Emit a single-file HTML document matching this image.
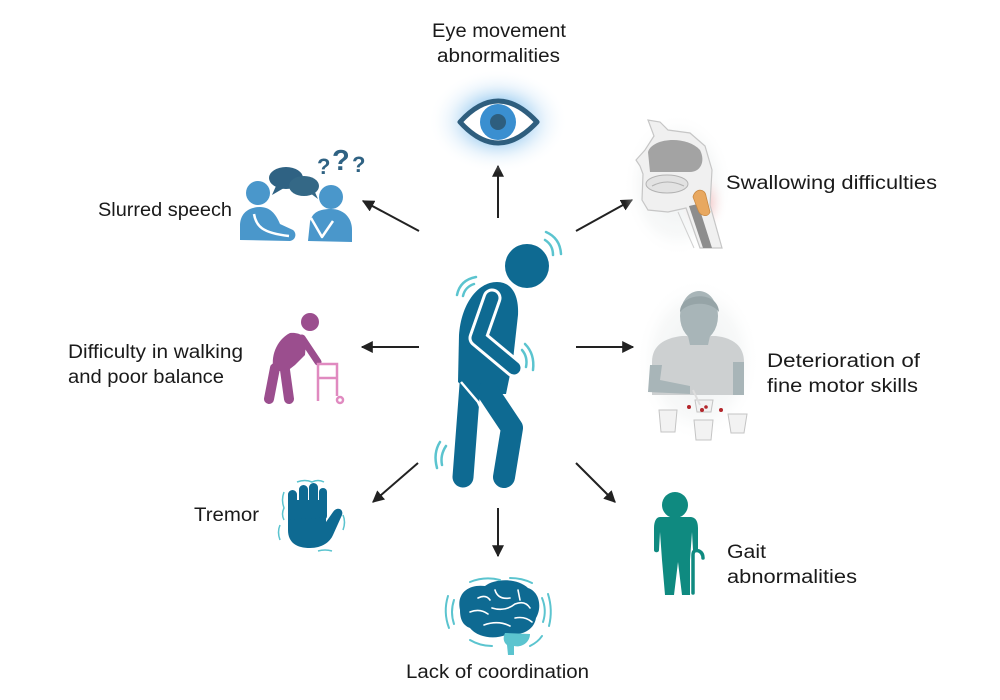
<!DOCTYPE html>
<html><head><meta charset="utf-8"><style>
html,body{margin:0;padding:0;background:#fff;}
svg{display:block;}
text{font-family:"Liberation Sans",sans-serif;font-size:19px;fill:#1a1a1a;}
</style></head><body>
<svg width="1000" height="700" viewBox="0 0 1000 700" xmlns="http://www.w3.org/2000/svg">
<defs>
<radialGradient id="glow" cx="0.5" cy="0.5" r="0.5">
<stop offset="0" stop-color="#3d9de3" stop-opacity="1"/>
<stop offset="0.35" stop-color="#7dbdec" stop-opacity="0.75"/>
<stop offset="0.7" stop-color="#cfe6f8" stop-opacity="0.35"/>
<stop offset="1" stop-color="#ffffff" stop-opacity="0"/>
</radialGradient>
<radialGradient id="redglow" cx="0.5" cy="0.5" r="0.5">
<stop offset="0" stop-color="#f06a6a" stop-opacity="0.55"/>
<stop offset="1" stop-color="#ffffff" stop-opacity="0"/>
</radialGradient>
<radialGradient id="grayhalo" cx="0.5" cy="0.5" r="0.5">
<stop offset="0" stop-color="#e8eced" stop-opacity="0.9"/>
<stop offset="0.7" stop-color="#f3f5f5" stop-opacity="0.6"/>
<stop offset="1" stop-color="#ffffff" stop-opacity="0"/>
</radialGradient>
<marker id="ah" viewBox="0 0 10 10" refX="9" refY="5" markerWidth="6" markerHeight="6" orient="auto">
<path d="M0,0 L10,5 L0,10 Z" fill="#222"/>
</marker>
</defs>

<!-- Arrows -->
<g stroke="#222" stroke-width="2" fill="none" marker-end="url(#ah)">
<line x1="498" y1="218" x2="498" y2="166"/>
<line x1="419" y1="231" x2="363" y2="201"/>
<line x1="419" y1="347" x2="362" y2="347"/>
<line x1="418" y1="463" x2="373" y2="502"/>
<line x1="498" y1="508" x2="498" y2="556"/>
<line x1="576" y1="463" x2="615" y2="502"/>
<line x1="576" y1="347" x2="633" y2="347"/>
<line x1="576" y1="231" x2="632" y2="200"/>
</g>

<!-- Central figure -->
<g fill="#0e6a92">
<circle cx="527" cy="266" r="22"/>
<path d="M497 282 C477 282 461 305 459 335 L458 382 L472 394 L506 394 L513 360 L518 315 C519 294 511 282 497 282 Z"/>
<path d="M470 385 L463 477" stroke="#0e6a92" stroke-width="21" stroke-linecap="round"/>
<path d="M488 392 L512 428 L504 477" stroke="#0e6a92" stroke-width="22" stroke-linecap="round" stroke-linejoin="round" fill="none"/>
</g>
<path d="M461 382 L478 402 L490 428" stroke="#fff" stroke-width="2.5" fill="none"/>
<path d="M492 298 L478 338 L514 368" stroke="#fff" stroke-width="19" stroke-linecap="round" stroke-linejoin="round" fill="none"/>
<path d="M492 298 L478 338 L514 368" stroke="#0e6a92" stroke-width="13" stroke-linecap="round" stroke-linejoin="round" fill="none"/>
<g stroke="#5bc4cf" stroke-width="2.5" fill="none" stroke-linecap="round">
<path d="M545 240 Q553 245 553 255"/><path d="M546 232 Q560 238 561 254"/>
<path d="M474 284 Q465 287 463 296"/><path d="M476 277 Q460 280 457 295"/>
<path d="M522 350 Q528 357 526 367"/><path d="M525 344 Q535 354 533 370"/>
<path d="M446 446 Q440 455 442 465"/><path d="M440 442 Q433 453 437 468"/>
</g>

<!-- Eye -->
<ellipse cx="498" cy="121" rx="70" ry="52" fill="url(#glow)"/>
<path d="M460 122 Q498 80 537 122 Q498 164 460 122 Z" fill="#fff" stroke="#2e5e7e" stroke-width="5" stroke-linejoin="round"/>
<circle cx="498" cy="122" r="18" fill="#3a8fd0"/>
<circle cx="498" cy="122" r="8" fill="#2e5e7e"/>

<!-- Slurred speech icon -->
<g fill="#4a97cb">
<circle cx="258" cy="193" r="12"/>
<path d="M240 240 L240 226 C240 212 250 207 260 207 C270 207 276 214 280 224 L293 230 C297 233 296 240 290 241 Z"/>
<circle cx="331" cy="197" r="12"/>
<path d="M308 241 L310 222 C312 212 320 209 331 209 C344 209 352 218 352 230 L352 242 Z"/>
</g>
<path d="M254 214 C256 226 262 233 289 236" stroke="#fff" stroke-width="2.5" fill="none"/>
<path d="M311 218 L322 237 L333 221" stroke="#fff" stroke-width="2.5" fill="none" stroke-linejoin="round"/>
<ellipse cx="286" cy="178" rx="17" ry="11" fill="#2f6283"/>
<path d="M276 186 L272 195 L284 188 Z" fill="#2f6283"/>
<ellipse cx="304" cy="186" rx="15" ry="10" fill="#346886"/>
<path d="M310 193 L318 199 L314 190 Z" fill="#346886"/>
<text x="317" y="174" style="font-size:22px;font-weight:bold;fill:#2f6283">?</text>
<text x="332" y="170" style="font-size:29px;font-weight:bold;fill:#2f6283">?</text>
<text x="352" y="172" style="font-size:22px;font-weight:bold;fill:#2f6283">?</text>

<!-- Swallowing -->
<ellipse cx="678" cy="185" rx="55" ry="72" fill="url(#grayhalo)"/>
<ellipse cx="703" cy="203" rx="24" ry="32" fill="url(#redglow)"/>
<path d="M648 120 L654 136 L645 150 L636 160 L640 166 L643 174 L642 200 L648 210 L668 212 L686 208 L700 248 L722 248 L710 205 L712 170 L705 146 L690 133 L668 130 L660 122 Z" fill="#f0f0f0" stroke="#c6c6c6" stroke-width="1.2"/>
<path d="M648 152 C652 138 686 135 700 150 C706 162 700 172 690 172 L650 172 Z" fill="#a3a3a3"/>
<ellipse cx="667" cy="184" rx="21" ry="9" fill="#e2e2e2" stroke="#b3b3b3" stroke-width="1"/>
<path d="M652 186 Q667 178 684 186" stroke="#b3b3b3" stroke-width="1" fill="none"/>
<path d="M689 206 L703 248 L712 248 L698 204 Z" fill="#8d8d8d"/>
<path d="M678 212 L694 248" stroke="#d0d0d0" stroke-width="1" fill="none"/>
<path d="M693 197 C695 188 705 188 706 196 L710 212 C708 218 700 216 698 210 Z" fill="#e8a860" stroke="#c98a45" stroke-width="0.8"/>

<!-- Fine motor skills -->
<ellipse cx="698" cy="360" rx="62" ry="82" fill="url(#grayhalo)"/>
<path d="M652 395 L652 362 C652 345 665 338 682 336 L716 336 C733 338 744 346 744 362 L744 395 Z" fill="#cdd0d1"/>
<path d="M650 365 L648 392 L690 394 L690 386 L660 380 L662 365 Z" fill="#a8b5b8"/>
<rect x="733" y="362" width="11" height="33" fill="#a8b5b8"/>
<path d="M688 336 L690 345 L708 345 L710 336 Z" fill="#a8b5b8"/>
<ellipse cx="699" cy="316" rx="19" ry="25" fill="#a8b5b8"/>
<path d="M680 312 C680 292 718 290 719 312 C712 302 690 300 680 312 Z" fill="#96a4a7"/>
<g fill="#f2f2f2" stroke="#c4c4c4" stroke-width="1">
<path d="M659 410 L677 410 L675 432 L661 432 Z"/>
<path d="M694 420 L713 420 L711 440 L696 440 Z"/>
<path d="M728 414 L747 414 L744 433 L731 433 Z"/>
<path d="M695 400 L713 400 L711 412 L697 412 Z"/>
</g>
<line x1="700" y1="405" x2="693" y2="390" stroke="#ddd" stroke-width="2"/>
<g fill="#b3262b">
<circle cx="689" cy="407" r="2"/><circle cx="702" cy="410" r="2"/><circle cx="706" cy="407" r="1.8"/><circle cx="721" cy="410" r="2"/>
</g>

<!-- Walker -->
<g fill="#9b4e8e">
<circle cx="310" cy="322" r="9"/>
<path d="M290 333 C300 332 306 337 306 343 L305 355 L295 365 L286 372 L274 370 C270 358 276 340 290 333 Z"/>
<path d="M302 338 L318 362" stroke="#9b4e8e" stroke-width="7" stroke-linecap="round"/>
<path d="M275 368 L269 399" stroke="#9b4e8e" stroke-width="10" stroke-linecap="round"/>
<path d="M285 370 L289 399" stroke="#9b4e8e" stroke-width="10" stroke-linecap="round"/>
</g>
<g stroke="#e08ac0" stroke-width="2.5" fill="none">
<path d="M318 401 L318 364 L337 364 L337 396"/>
<line x1="318" y1="378" x2="337" y2="378"/>
<circle cx="340" cy="400" r="3"/>
</g>

<!-- Tremor hand -->
<g fill="#0e6a92">
<path d="M288 512 L288 530 C288 543 297 548 310 548 C322 548 330 542 333 535 L342 515 C344 509 337 506 333 512 L326 522 L326 500 L288 500 Z"/>
<rect x="288" y="490" width="9" height="30" rx="4.5"/>
<rect x="299" y="485" width="9" height="34" rx="4.5"/>
<rect x="309" y="483" width="9" height="36" rx="4.5"/>
<rect x="319" y="488" width="8" height="32" rx="4"/>
</g>
<g stroke="#5bc4cf" stroke-width="1.5" fill="none">
<path d="M284 492 Q281 500 284 508 Q281 514 284 520"/>
<path d="M280 525 Q277 532 280 540"/>
<path d="M297 482 Q305 479 312 482 Q318 479 324 482"/>
<path d="M343 515 Q346 522 343 530"/>
<path d="M318 551 Q325 549 332 551"/>
</g>

<!-- Brain -->
<path d="M460 610 C456 592 470 584 485 586 C495 578 518 578 528 588 C540 592 542 608 536 618 C534 630 522 636 508 634 C496 640 478 638 470 628 C462 625 460 618 460 610 Z" fill="#0e6a92"/>
<path d="M505 633 L530 634 C530 642 522 648 514 646 L514 655 L508 655 L507 645 C503 642 503 637 505 633 Z" fill="#5bc4cf"/>
<g stroke="#fff" stroke-width="1.6" fill="none" stroke-linecap="round">
<path d="M478 598 Q486 594 490 600"/><path d="M495 590 Q498 600 510 598"/>
<path d="M470 612 Q480 608 488 614"/><path d="M492 608 Q505 612 515 604 Q525 600 530 608"/>
<path d="M484 625 Q498 620 510 626"/><path d="M515 618 Q525 616 532 622"/>
<path d="M518 590 L520 600"/>
</g>
<g stroke="#5bc4cf" stroke-width="2" fill="none" stroke-linecap="round">
<path d="M470 582 Q485 576 500 580"/><path d="M510 578 Q522 578 532 583"/>
<path d="M454 600 Q450 612 454 624"/><path d="M448 596 Q443 612 449 628"/>
<path d="M542 598 Q547 610 543 622"/><path d="M548 594 Q553 610 549 626"/>
<path d="M470 640 Q480 646 492 646"/><path d="M530 646 Q538 642 542 636"/>
</g>

<!-- Gait -->
<g fill="#0f8a80">
<circle cx="675" cy="505" r="13"/>
<path d="M660 517 L690 517 C696 517 698 522 698 528 L698 550 C698 553 693 553 693 550 L692 532 L690 560 L690 595 L682 595 L678 562 L674 595 L665 595 L662 560 L660 532 L659 550 C659 553 654 553 654 550 L654 528 C654 522 656 517 660 517 Z"/>
</g>
<path d="M693 593 L693 555 Q693 549 699 551 Q703 553 703 558" stroke="#0f8a80" stroke-width="3.5" fill="none" stroke-linecap="round"/>

<!-- Labels -->
<text x="432" y="37" textLength="134" lengthAdjust="spacingAndGlyphs">Eye movement</text>
<text x="437" y="62" textLength="123" lengthAdjust="spacingAndGlyphs">abnormalities</text>
<text x="98" y="216" textLength="134" lengthAdjust="spacingAndGlyphs">Slurred speech</text>
<text x="68" y="358" textLength="175" lengthAdjust="spacingAndGlyphs">Difficulty in walking</text>
<text x="68" y="383" textLength="156" lengthAdjust="spacingAndGlyphs">and poor balance</text>
<text x="194" y="521" textLength="65" lengthAdjust="spacingAndGlyphs">Tremor</text>
<text x="406" y="678" textLength="183" lengthAdjust="spacingAndGlyphs">Lack of coordination</text>
<text x="726" y="189" textLength="211" lengthAdjust="spacingAndGlyphs">Swallowing difficulties</text>
<text x="767" y="367" textLength="153" lengthAdjust="spacingAndGlyphs">Deterioration of</text>
<text x="767" y="392" textLength="151" lengthAdjust="spacingAndGlyphs">fine motor skills</text>
<text x="727" y="558" textLength="39" lengthAdjust="spacingAndGlyphs">Gait</text>
<text x="727" y="583" textLength="130" lengthAdjust="spacingAndGlyphs">abnormalities</text>
</svg>
</body></html>
